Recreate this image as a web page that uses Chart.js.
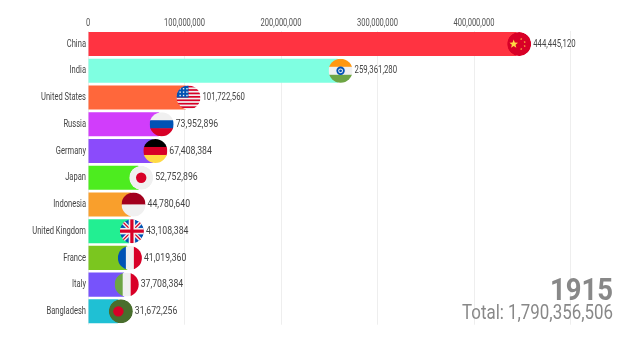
<!DOCTYPE html>
<html>
<head>
<meta charset="utf-8">
<title>Population 1915</title>
<style>
  html, body { margin: 0; padding: 0; background: #fff; }
  canvas { display: block; }
</style>
<script src="https://cdn.jsdelivr.net/npm/chart.js@4/dist/chart.umd.min.js"></script>
</head>
<body>
<canvas id="raceChart" width="640" height="360"></canvas>
<script>
const countries = ['China', 'India', 'United States', 'Russia', 'Germany', 'Japan', 'Indonesia', 'United Kingdom', 'France', 'Italy', 'Bangladesh'];
const population = [444445120, 259361280, 101722560, 73952896, 67408384, 52752896, 44780640, 43108384, 41019360, 37708384, 31672256];
const barColors = ['#ff3341', '#7fffe1', '#ff673b', '#d13dfb', '#8b4bfb', '#4dec1f', '#f99f2c', '#22ef92', '#7bc61f', '#7753fb', '#1fc0d4'];
const year = '1915';
const totalText = 'Total: 1,790,356,506';

const WHITE = '#f0f0f0', RED = '#d80027', BLUE = '#0052b4', GREEN = '#6da544', GOLD = '#ffda44';

function hBands(ctx, r, colors) {
    const h = 2 * r / colors.length;
    colors.forEach((c, i) => { ctx.fillStyle = c; ctx.fillRect(-r, -r + i * h, 2 * r, h + 0.5); });
}
function vBands(ctx, r, colors) {
    const w = 2 * r / colors.length;
    colors.forEach((c, i) => { ctx.fillStyle = c; ctx.fillRect(-r + i * w, -r, w + 0.5, 2 * r); });
}
function disc(ctx, x, y, r, color) {
    ctx.fillStyle = color;
    ctx.beginPath();
    ctx.arc(x, y, r, 0, Math.PI * 2);
    ctx.fill();
}
function star(ctx, x, y, r, color) {
    ctx.fillStyle = color;
    ctx.beginPath();
    for (let i = 0; i < 10; i++) {
        const a = -Math.PI / 2 + i * Math.PI / 5;
        const d = i % 2 ? r * 0.42 : r;
        ctx.lineTo(x + Math.cos(a) * d, y + Math.sin(a) * d);
    }
    ctx.closePath();
    ctx.fill();
}
const flags = {
    'China': (ctx, r) => {
        disc(ctx, 0, 0, r, RED);
        star(ctx, -5.5, 0, 4.5, GOLD);
        [[2, -5], [5.5, -2], [5.5, 2], [2, 5]].forEach(p => star(ctx, p[0], p[1], 1.2, GOLD));
    },
    'India': (ctx, r) => {
        hBands(ctx, r, ['#ff9811', WHITE, GREEN]);
        disc(ctx, 0, 0, 4.2, BLUE);
        disc(ctx, 0, 0, 2.4, WHITE);
        disc(ctx, 0, 0, 1.4, BLUE);
    },
    'United States': (ctx, r) => {
        disc(ctx, 0, 0, r, WHITE);
        ctx.fillStyle = RED;
        for (let i = 0; i < 7; i++) ctx.fillRect(-r, -r + i * 3.43 + 0.2, 2 * r, 1.7);
        ctx.fillStyle = BLUE;
        ctx.fillRect(-r, -r, r, r);
        ctx.fillStyle = WHITE;
        for (let i = 0; i < 3; i++) for (let j = 0; j < 3; j++) ctx.fillRect(-9 + j * 3.4, -9.5 + i * 3.4, 1.4, 1.4);
    },
    'Russia': (ctx, r) => hBands(ctx, r, [WHITE, BLUE, RED]),
    'Germany': (ctx, r) => hBands(ctx, r, ['#000000', RED, GOLD]),
    'Japan': (ctx, r) => {
        disc(ctx, 0, 0, r, WHITE);
        disc(ctx, 0, 0, 5.2, RED);
    },
    'Indonesia': (ctx, r) => hBands(ctx, r, ['#a2001d', WHITE]),
    'United Kingdom': (ctx, r) => {
        disc(ctx, 0, 0, r, BLUE);
        ctx.lineCap = 'butt';
        ctx.strokeStyle = WHITE;
        ctx.lineWidth = 4;
        ctx.beginPath();
        ctx.moveTo(-r, -r); ctx.lineTo(r, r);
        ctx.moveTo(r, -r); ctx.lineTo(-r, r);
        ctx.stroke();
        ctx.strokeStyle = RED;
        ctx.lineWidth = 1.3;
        ctx.stroke();
        ctx.fillStyle = WHITE;
        ctx.fillRect(-r, -3.2, 2 * r, 6.4);
        ctx.fillRect(-3.2, -r, 6.4, 2 * r);
        ctx.fillStyle = RED;
        ctx.fillRect(-r, -1.6, 2 * r, 3.2);
        ctx.fillRect(-1.6, -r, 3.2, 2 * r);
    },
    'France': (ctx, r) => vBands(ctx, r, [BLUE, WHITE, RED]),
    'Italy': (ctx, r) => vBands(ctx, r, [GREEN, WHITE, RED]),
    'Bangladesh': (ctx, r) => {
        disc(ctx, 0, 0, r, '#496e2d');
        disc(ctx, -2.5, 0, 5.2, RED);
    }
};

// the reference font is condensed and none is installed, so squeeze axis text
const TEXT_SQUEEZE = 0.72;
const barLabels = {
    id: 'barLabels',
    beforeInit(chart) {
        const ctx = chart.ctx;
        const fillText = ctx.fillText.bind(ctx);
        ctx.fillText = (text, x, y, maxWidth) => {
            fillText(text, x, y, maxWidth === undefined ? ctx.measureText(text).width * TEXT_SQUEEZE : maxWidth);
        };
    },
    afterDatasetsDraw(chart) {
        const { ctx, scales: { x, y } } = chart;
        const r = 12;
        population.forEach((v, i) => {
            const px = x.getPixelForValue(v) + 2.3;
            const py = y.getPixelForValue(i);
            ctx.save();
            ctx.translate(px, py);
            ctx.beginPath();
            ctx.arc(0, 0, r, 0, Math.PI * 2);
            ctx.clip();
            flags[countries[i]](ctx, r);
            ctx.restore();
            ctx.save();
            ctx.font = '10.5px Roboto';
            ctx.fillStyle = '#444';
            ctx.textAlign = 'left';
            ctx.textBaseline = 'middle';
            ctx.fillText(v.toLocaleString('en-US'), px + r + 2, py, 42.5);
            ctx.restore();
        });
        ctx.save();
        ctx.textAlign = 'right';
        ctx.textBaseline = 'alphabetic';
        ctx.fillStyle = '#888';
        ctx.font = 'bold 31px Roboto';
        ctx.fillText(year, 613, 300, 63);
        ctx.font = '20px Roboto';
        ctx.fillText(totalText, 613, 319, 151);
        ctx.restore();
    }
};

new Chart(document.getElementById('raceChart').getContext('2d'), {
    type: 'bar',
    data: {
        labels: countries,
        datasets: [{
            data: population,
            backgroundColor: barColors,
            borderWidth: 0,
            borderRadius: 1,
            barPercentage: 0.9,
            categoryPercentage: 1
        }]
    },
    plugins: [barLabels],
    options: {
        indexAxis: 'y',
        responsive: false,
        animation: false,
        layout: { padding: { left: 0, top: 0, right: 69.5, bottom: 35.3 } },
        plugins: { legend: { display: false }, tooltip: { enabled: false } },
        scales: {
            x: {
                position: 'top',
                min: 0,
                max: 500000000,
                border: { display: false },
                afterFit: s => { s.height = 30.7; },
                grid: { color: '#eeeeee', drawTicks: false },
                ticks: {
                    stepSize: 100000000,
                    maxRotation: 0,
                    padding: 1,
                    color: '#555',
                    font: { family: 'Roboto', size: 10.5 },
                    callback: v => v === 500000000 ? '' : v.toLocaleString('en-US')
                }
            },
            y: {
                border: { display: false },
                afterFit: s => { s.width = 88; },
                grid: { display: false, drawTicks: false },
                ticks: {
                    padding: 2,
                    color: '#444',
                    font: { family: 'Roboto', size: 10.5 }
                }
            }
        }
    }
});
</script>
</body>
</html>
